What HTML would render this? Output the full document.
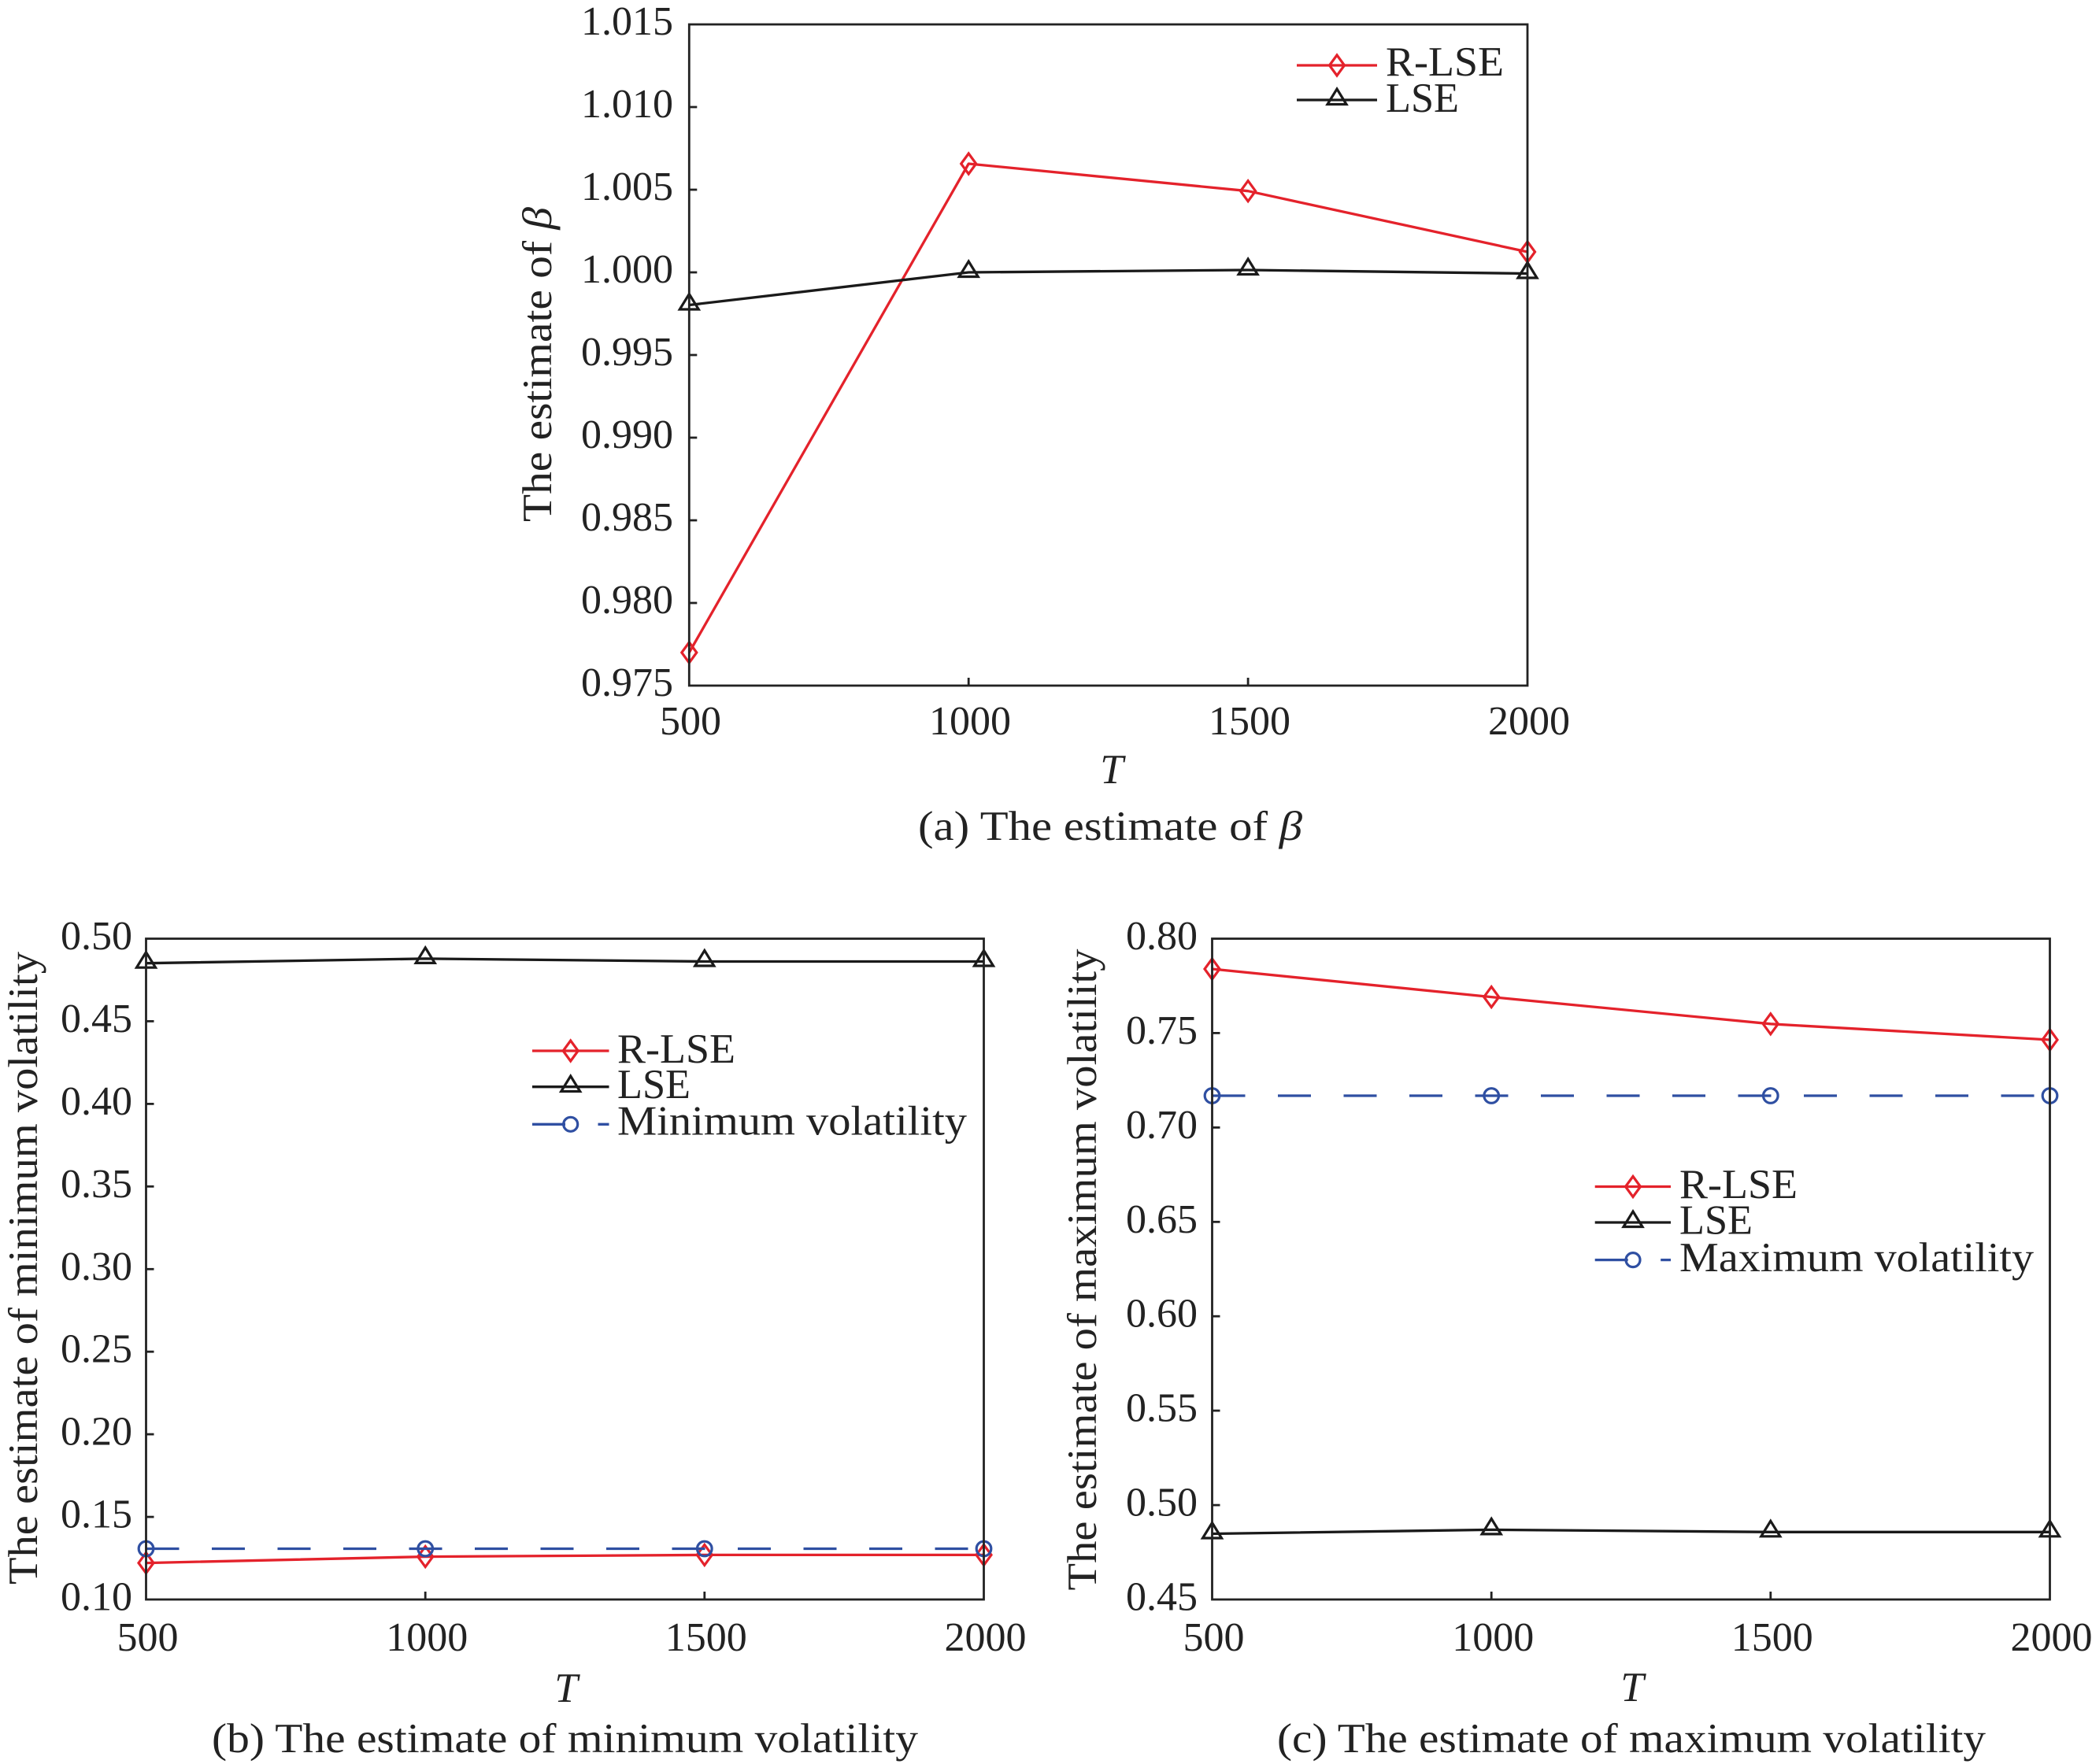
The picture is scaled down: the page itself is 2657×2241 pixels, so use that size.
<!DOCTYPE html>
<html>
<head>
<meta charset="utf-8">
<style>
  html,body{margin:0;padding:0;background:#fff;}
  svg{display:block;}
  text{font-family:"Liberation Serif","DejaVu Serif",serif;fill:#222;}
</style>
</head>
<body>
<svg width="2657" height="2241" viewBox="0 0 2657 2241" xmlns="http://www.w3.org/2000/svg">
<rect x="0" y="0" width="2657" height="2241" fill="#fff"/>

<!-- ===================== Panel (a) ===================== -->
<g>
  <polyline points="875.3,829 1230.2,208 1585.1,242.7 1940,320" fill="none" stroke="#e4222b" stroke-width="3.3" stroke-linejoin="round"/>
  <polyline points="875.3,387.5 1230.2,346 1585.1,343 1940,347.5" fill="none" stroke="#1a1a1a" stroke-width="3.3" stroke-linejoin="round"/>
  <g fill="none" stroke="#e4222b" stroke-width="3.2">
    <path d="M875.3,816 L884.8,829 L875.3,842 L865.8,829 Z"/>
    <path d="M1230.2,195 L1239.7,208 L1230.2,221 L1220.7,208 Z"/>
    <path d="M1585.1,229.7 L1594.6,242.7 L1585.1,255.7 L1575.6,242.7 Z"/>
    <path d="M1940,307 L1949.5,320 L1940,333 L1930.5,320 Z"/>
  </g>
  <g fill="none" stroke="#1a1a1a" stroke-width="3.2" stroke-linejoin="miter">
    <path d="M875.3,373.5 L887.3,393 L863.3,393 Z"/>
    <path d="M1230.2,332 L1242.2,351.5 L1218.2,351.5 Z"/>
    <path d="M1585.1,329 L1597.1,348.5 L1573.1,348.5 Z"/>
    <path d="M1940,333.5 L1952,353 L1928,353 Z"/>
  </g>
  <rect x="875.3" y="31" width="1064.7" height="840" fill="none" stroke="#222" stroke-width="2.8"/>
  <g stroke="#222" stroke-width="2.8">
    <line x1="875.3" y1="766" x2="885.3" y2="766"/>
    <line x1="875.3" y1="661" x2="885.3" y2="661"/>
    <line x1="875.3" y1="556" x2="885.3" y2="556"/>
    <line x1="875.3" y1="451" x2="885.3" y2="451"/>
    <line x1="875.3" y1="346" x2="885.3" y2="346"/>
    <line x1="875.3" y1="241" x2="885.3" y2="241"/>
    <line x1="875.3" y1="136" x2="885.3" y2="136"/>
    <line x1="1230.2" y1="871" x2="1230.2" y2="861"/>
    <line x1="1585.1" y1="871" x2="1585.1" y2="861"/>
  </g>
  <g font-size="52" text-anchor="end">
    <text x="855" y="884">0.975</text>
    <text x="855" y="779">0.980</text>
    <text x="855" y="674">0.985</text>
    <text x="855" y="569">0.990</text>
    <text x="855" y="464">0.995</text>
    <text x="855" y="359">1.000</text>
    <text x="855" y="254">1.005</text>
    <text x="855" y="149">1.010</text>
    <text x="855" y="44">1.015</text>
  </g>
  <g font-size="52" text-anchor="middle">
    <text x="877" y="933">500</text>
    <text x="1232" y="933">1000</text>
    <text x="1587" y="933">1500</text>
    <text x="1942" y="933">2000</text>
  </g>
  <text x="1412" y="995" font-size="53" font-style="italic" text-anchor="middle">T</text>
  <text transform="translate(700,663) rotate(-90)" font-size="53" textLength="400" lengthAdjust="spacingAndGlyphs">The estimate of <tspan font-style="italic">β</tspan></text>
  <text x="1166" y="1067" font-size="53" textLength="488" lengthAdjust="spacingAndGlyphs">(a) The estimate of <tspan font-style="italic">β</tspan></text>
  <line x1="1647" y1="83" x2="1749" y2="83" stroke="#e4222b" stroke-width="3.3"/>
  <path d="M1698,70 L1707.5,83 L1698,96 L1688.5,83 Z" fill="none" stroke="#e4222b" stroke-width="3.2"/>
  <line x1="1647" y1="127" x2="1749" y2="127" stroke="#1a1a1a" stroke-width="3.3"/>
  <path d="M1698,113 L1710,132.5 L1686,132.5 Z" fill="none" stroke="#1a1a1a" stroke-width="3.2"/>
  <text x="1760" y="96" font-size="53" textLength="150" lengthAdjust="spacingAndGlyphs">R-LSE</text>
  <text x="1760" y="142" font-size="53" textLength="93" lengthAdjust="spacingAndGlyphs">LSE</text>
</g>

<!-- ===================== Panel (b) ===================== -->
<g>
  <polyline points="185.5,1985.6 540.2,1977.6 894.8,1975.4 1249.5,1975.4" fill="none" stroke="#e4222b" stroke-width="3.3" stroke-linejoin="round"/>
  <polyline points="185.5,1223.7 540.2,1217.9 894.8,1221.5 1249.5,1221.5" fill="none" stroke="#1a1a1a" stroke-width="3.3" stroke-linejoin="round"/>
  <g fill="none" stroke="#e4222b" stroke-width="3.2">
    <path d="M185.5,1972.6 L195,1985.6 L185.5,1998.6 L176,1985.6 Z"/>
    <path d="M540.2,1964.6 L549.7,1977.6 L540.2,1990.6 L530.7,1977.6 Z"/>
    <path d="M894.8,1962.4 L904.3,1975.4 L894.8,1988.4 L885.3,1975.4 Z"/>
    <path d="M1249.5,1962.4 L1259,1975.4 L1249.5,1988.4 L1240,1975.4 Z"/>
  </g>
  <g fill="none" stroke="#1a1a1a" stroke-width="3.2">
    <path d="M185.5,1209.7 L197.5,1229.2 L173.5,1229.2 Z"/>
    <path d="M540.2,1203.9 L552.2,1223.4 L528.2,1223.4 Z"/>
    <path d="M894.8,1207.5 L906.8,1227 L882.8,1227 Z"/>
    <path d="M1249.5,1207.5 L1261.5,1227 L1237.5,1227 Z"/>
  </g>
  <line x1="185.5" y1="1967.5" x2="1249.5" y2="1967.5" stroke="#2f4fa2" stroke-width="3.3" stroke-dasharray="42 41.5"/>
  <g fill="none" stroke="#2f4fa2" stroke-width="3.2">
    <circle cx="185.5" cy="1967.5" r="9.3"/>
    <circle cx="540.2" cy="1967.5" r="9.3"/>
    <circle cx="894.8" cy="1967.5" r="9.3"/>
    <circle cx="1249.5" cy="1967.5" r="9.3"/>
  </g>
  <rect x="185.5" y="1192.5" width="1064" height="839.5" fill="none" stroke="#222" stroke-width="2.8"/>
  <g stroke="#222" stroke-width="2.8">
    <line x1="185.5" y1="1927.1" x2="195.5" y2="1927.1"/>
    <line x1="185.5" y1="1822.1" x2="195.5" y2="1822.1"/>
    <line x1="185.5" y1="1717.2" x2="195.5" y2="1717.2"/>
    <line x1="185.5" y1="1612.3" x2="195.5" y2="1612.3"/>
    <line x1="185.5" y1="1507.3" x2="195.5" y2="1507.3"/>
    <line x1="185.5" y1="1402.4" x2="195.5" y2="1402.4"/>
    <line x1="185.5" y1="1297.4" x2="195.5" y2="1297.4"/>
    <line x1="540.2" y1="2032" x2="540.2" y2="2022"/>
    <line x1="894.8" y1="2032" x2="894.8" y2="2022"/>
  </g>
  <g font-size="52" text-anchor="end">
    <text x="168" y="2045.5">0.10</text>
    <text x="168" y="1940.6">0.15</text>
    <text x="168" y="1835.6">0.20</text>
    <text x="168" y="1730.7">0.25</text>
    <text x="168" y="1625.8">0.30</text>
    <text x="168" y="1520.8">0.35</text>
    <text x="168" y="1415.9">0.40</text>
    <text x="168" y="1310.9">0.45</text>
    <text x="168" y="1206">0.50</text>
  </g>
  <g font-size="52" text-anchor="middle">
    <text x="187.5" y="2097">500</text>
    <text x="542.2" y="2097">1000</text>
    <text x="896.8" y="2097">1500</text>
    <text x="1251.5" y="2097">2000</text>
  </g>
  <text x="719" y="2162" font-size="53" font-style="italic" text-anchor="middle">T</text>
  <text transform="translate(47,2013) rotate(-90)" font-size="53" textLength="804" lengthAdjust="spacingAndGlyphs">The estimate of minimum volatility</text>
  <text x="269" y="2226" font-size="53" textLength="897" lengthAdjust="spacingAndGlyphs">(b) The estimate of minimum volatility</text>
  <line x1="676" y1="1335" x2="773.5" y2="1335" stroke="#e4222b" stroke-width="3.3"/>
  <path d="M724.7,1322 L734.2,1335 L724.7,1348 L715.2,1335 Z" fill="none" stroke="#e4222b" stroke-width="3.2"/>
  <line x1="676" y1="1380.7" x2="773.5" y2="1380.7" stroke="#1a1a1a" stroke-width="3.3"/>
  <path d="M724.7,1367 L736.7,1386.5 L712.7,1386.5 Z" fill="none" stroke="#1a1a1a" stroke-width="3.2"/>
  <line x1="676" y1="1428.3" x2="773.5" y2="1428.3" stroke="#2f4fa2" stroke-width="3.3" stroke-dasharray="42 41.5"/>
  <circle cx="724.7" cy="1428.3" r="9" fill="none" stroke="#2f4fa2" stroke-width="3.2"/>
  <text x="784" y="1350" font-size="53" textLength="150" lengthAdjust="spacingAndGlyphs">R-LSE</text>
  <text x="784" y="1395" font-size="53" textLength="93" lengthAdjust="spacingAndGlyphs">LSE</text>
  <text x="784" y="1441.7" font-size="53" textLength="444" lengthAdjust="spacingAndGlyphs">Minimum volatility</text>
</g>

<!-- ===================== Panel (c) ===================== -->
<g>
  <polyline points="1539.5,1231 1894.2,1266.6 2248.8,1300.8 2603.5,1321" fill="none" stroke="#e4222b" stroke-width="3.3" stroke-linejoin="round"/>
  <polyline points="1539.5,1948.5 1894.2,1943.4 2248.8,1946.3 2603.5,1946.3" fill="none" stroke="#1a1a1a" stroke-width="3.3" stroke-linejoin="round"/>
  <g fill="none" stroke="#e4222b" stroke-width="3.2">
    <path d="M1539.5,1218 L1549,1231 L1539.5,1244 L1530,1231 Z"/>
    <path d="M1894.2,1253.6 L1903.7,1266.6 L1894.2,1279.6 L1884.7,1266.6 Z"/>
    <path d="M2248.8,1287.8 L2258.3,1300.8 L2248.8,1313.8 L2239.3,1300.8 Z"/>
    <path d="M2603.5,1308 L2613,1321 L2603.5,1334 L2594,1321 Z"/>
  </g>
  <g fill="none" stroke="#1a1a1a" stroke-width="3.2">
    <path d="M1539.5,1934.5 L1551.5,1954 L1527.5,1954 Z"/>
    <path d="M1894.2,1929.4 L1906.2,1948.9 L1882.2,1948.9 Z"/>
    <path d="M2248.8,1932.3 L2260.8,1951.8 L2236.8,1951.8 Z"/>
    <path d="M2603.5,1932.3 L2615.5,1951.8 L2591.5,1951.8 Z"/>
  </g>
  <line x1="1539.5" y1="1392" x2="2603.5" y2="1392" stroke="#2f4fa2" stroke-width="3.3" stroke-dasharray="42 41.5"/>
  <g fill="none" stroke="#2f4fa2" stroke-width="3.2">
    <circle cx="1539.5" cy="1392" r="9.3"/>
    <circle cx="1894.2" cy="1392" r="9.3"/>
    <circle cx="2248.8" cy="1392" r="9.3"/>
    <circle cx="2603.5" cy="1392" r="9.3"/>
  </g>
  <rect x="1539.5" y="1192.5" width="1064" height="839.5" fill="none" stroke="#222" stroke-width="2.8"/>
  <g stroke="#222" stroke-width="2.8">
    <line x1="1539.5" y1="1912.1" x2="1549.5" y2="1912.1"/>
    <line x1="1539.5" y1="1792.1" x2="1549.5" y2="1792.1"/>
    <line x1="1539.5" y1="1672.2" x2="1549.5" y2="1672.2"/>
    <line x1="1539.5" y1="1552.3" x2="1549.5" y2="1552.3"/>
    <line x1="1539.5" y1="1432.4" x2="1549.5" y2="1432.4"/>
    <line x1="1539.5" y1="1312.4" x2="1549.5" y2="1312.4"/>
    <line x1="1894.2" y1="2032" x2="1894.2" y2="2022"/>
    <line x1="2248.8" y1="2032" x2="2248.8" y2="2022"/>
  </g>
  <g font-size="52" text-anchor="end">
    <text x="1521" y="2045.5">0.45</text>
    <text x="1521" y="1925.6">0.50</text>
    <text x="1521" y="1805.6">0.55</text>
    <text x="1521" y="1685.7">0.60</text>
    <text x="1521" y="1565.8">0.65</text>
    <text x="1521" y="1445.9">0.70</text>
    <text x="1521" y="1325.9">0.75</text>
    <text x="1521" y="1206">0.80</text>
  </g>
  <g font-size="52" text-anchor="middle">
    <text x="1541.5" y="2097">500</text>
    <text x="1896.2" y="2097">1000</text>
    <text x="2250.8" y="2097">1500</text>
    <text x="2605.5" y="2097">2000</text>
  </g>
  <text x="2073" y="2161" font-size="53" font-style="italic" text-anchor="middle">T</text>
  <text transform="translate(1392,2020.5) rotate(-90)" font-size="53" textLength="815" lengthAdjust="spacingAndGlyphs">The estimate of maximum volatility</text>
  <text x="1622" y="2226" font-size="53" textLength="900" lengthAdjust="spacingAndGlyphs">(c) The estimate of maximum volatility</text>
  <line x1="2025.7" y1="1507.5" x2="2122" y2="1507.5" stroke="#e4222b" stroke-width="3.3"/>
  <path d="M2074,1494.5 L2083.5,1507.5 L2074,1520.5 L2064.5,1507.5 Z" fill="none" stroke="#e4222b" stroke-width="3.2"/>
  <line x1="2025.7" y1="1553" x2="2122" y2="1553" stroke="#1a1a1a" stroke-width="3.3"/>
  <path d="M2074,1539 L2086,1558.5 L2062,1558.5 Z" fill="none" stroke="#1a1a1a" stroke-width="3.2"/>
  <line x1="2025.7" y1="1600.6" x2="2122" y2="1600.6" stroke="#2f4fa2" stroke-width="3.3" stroke-dasharray="42 41.5"/>
  <circle cx="2074" cy="1600.6" r="9" fill="none" stroke="#2f4fa2" stroke-width="3.2"/>
  <text x="2133" y="1522" font-size="53" textLength="150" lengthAdjust="spacingAndGlyphs">R-LSE</text>
  <text x="2133" y="1567.5" font-size="53" textLength="93" lengthAdjust="spacingAndGlyphs">LSE</text>
  <text x="2133" y="1615" font-size="53" textLength="450" lengthAdjust="spacingAndGlyphs">Maximum volatility</text>
</g>
</svg>
</body>
</html>
